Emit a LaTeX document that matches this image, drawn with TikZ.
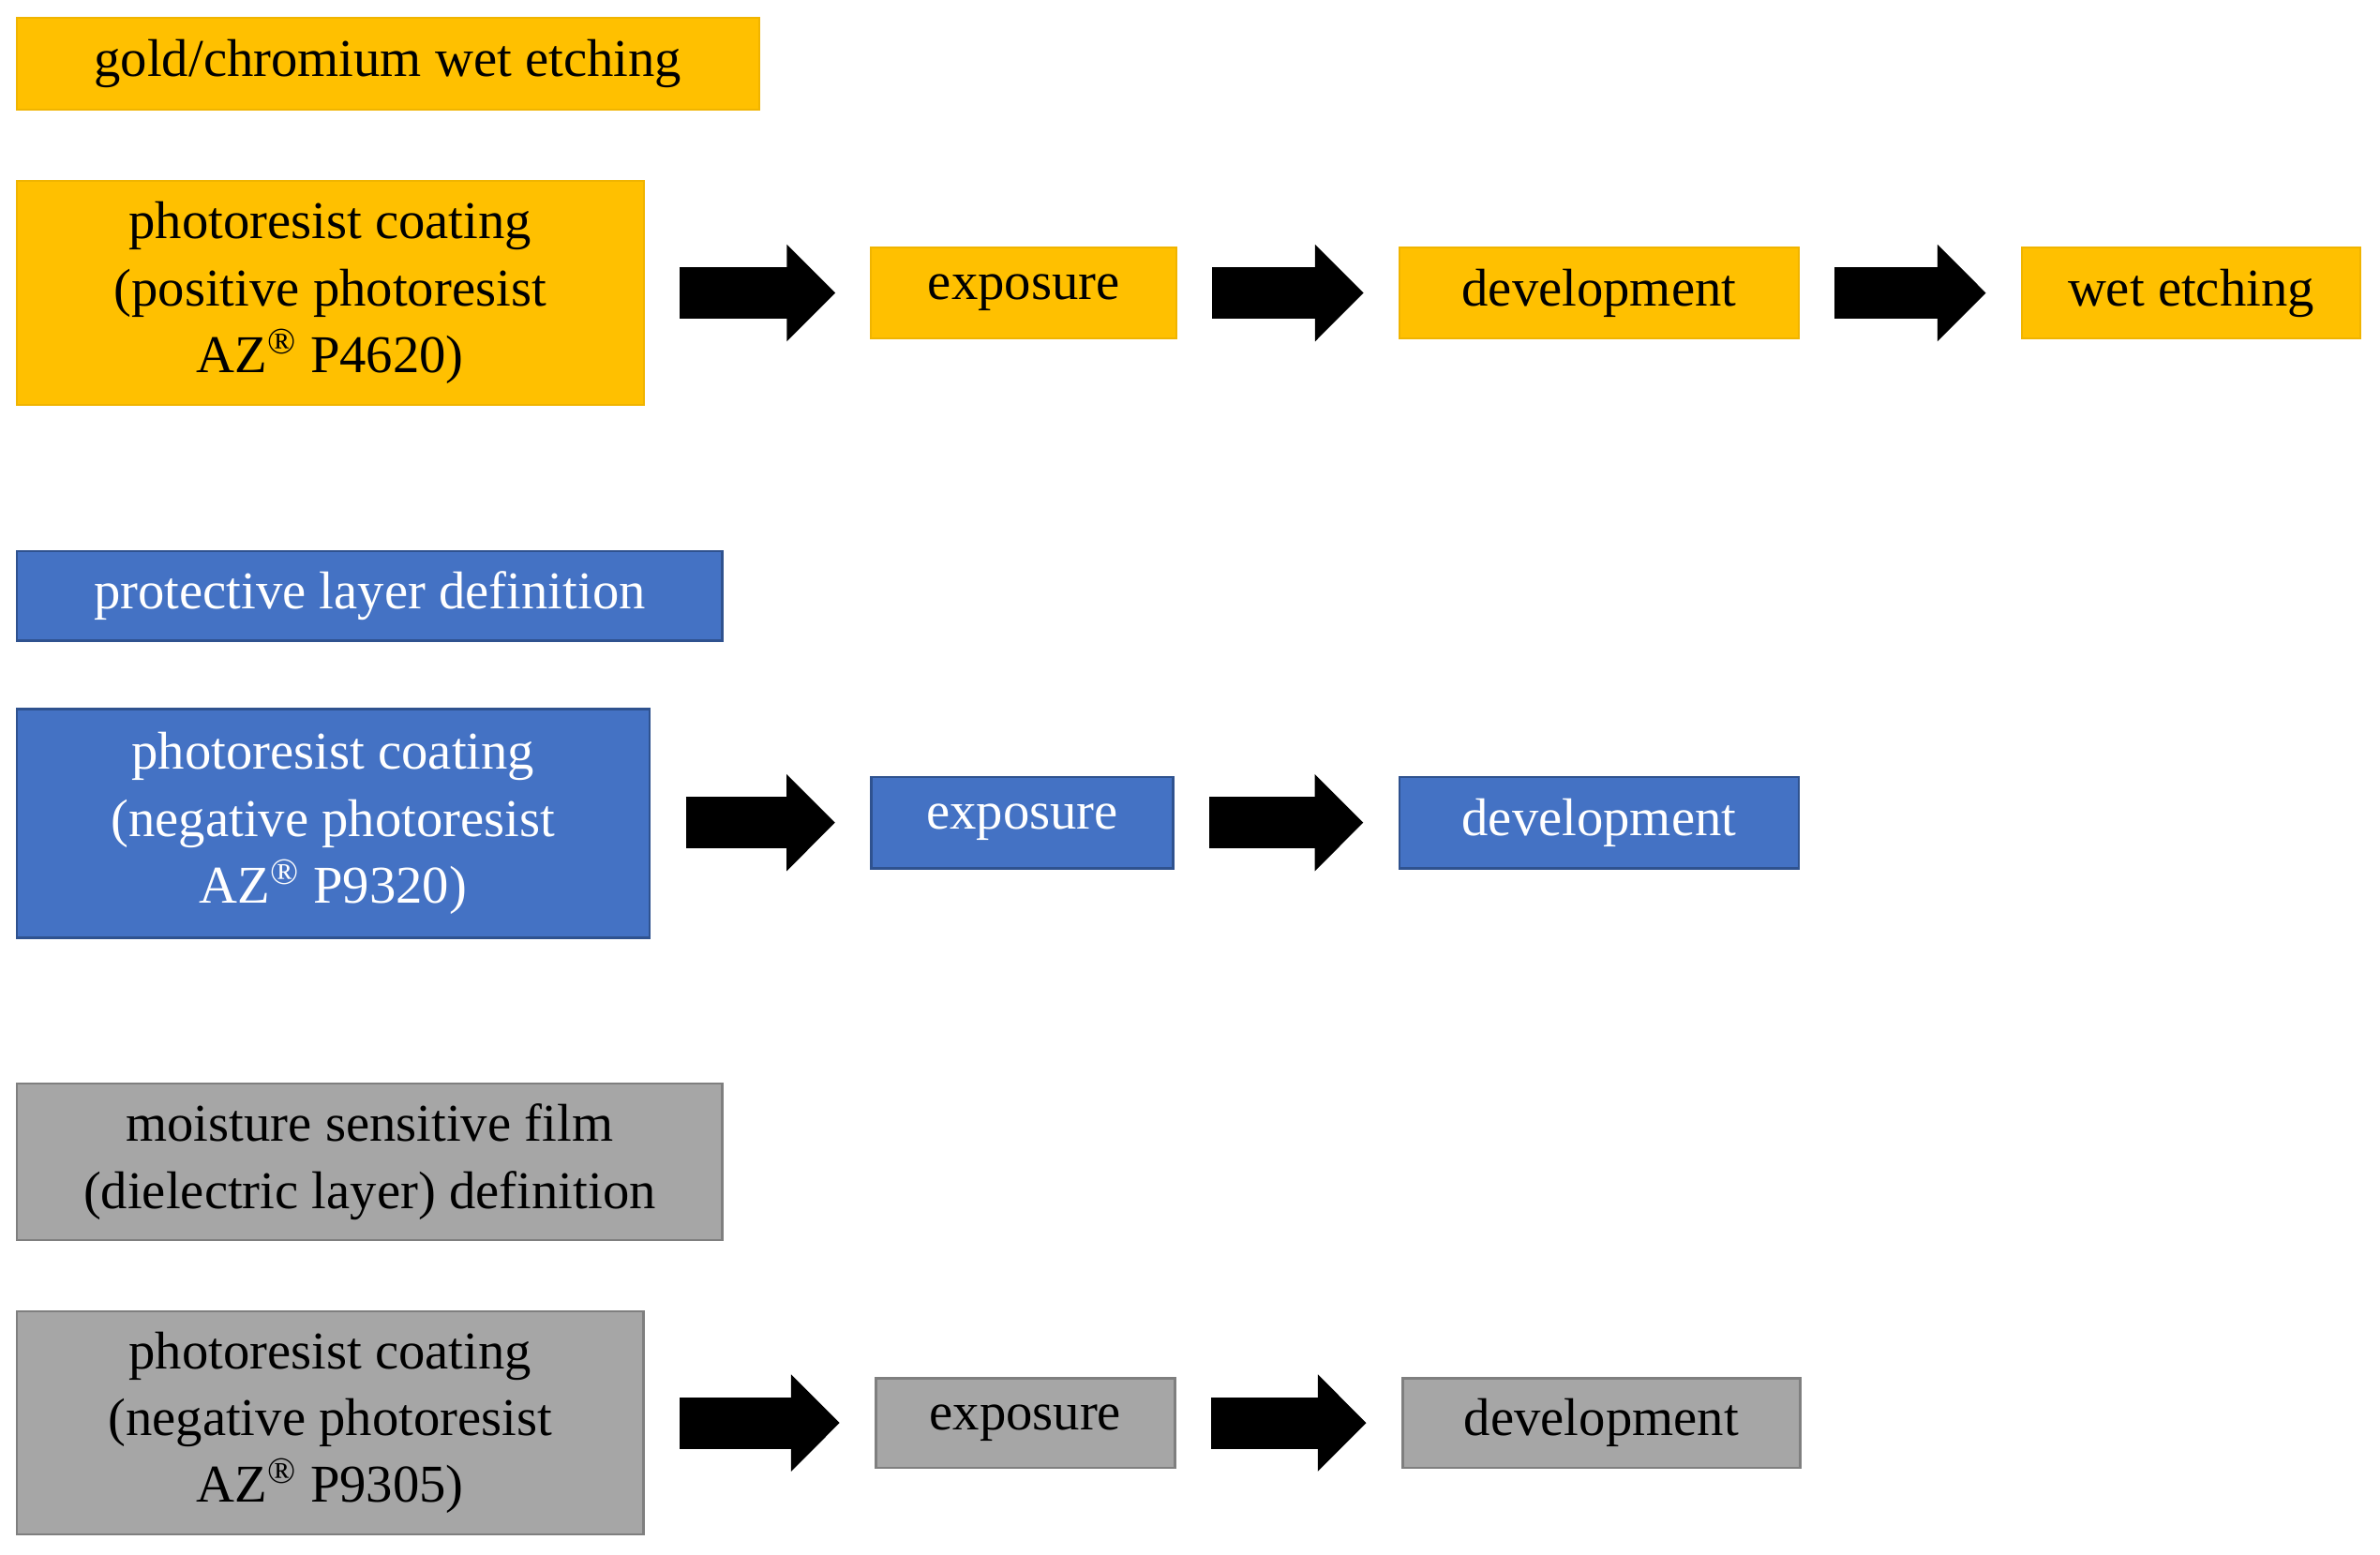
\documentclass[tikz,border=0pt]{standalone}
\usepackage{fontspec}
\setmainfont{Liberation Serif}
\usetikzlibrary{arrows.meta}
\definecolor{gold}{HTML}{FFC000}
\definecolor{goldb}{HTML}{F0B400}
\definecolor{blu}{HTML}{4472C4}
\definecolor{blub}{HTML}{2F528F}
\definecolor{gry}{HTML}{A6A6A6}
\definecolor{gryb}{HTML}{7F7F7F}
\begin{document}
\begin{tikzpicture}[x=0.5pt,y=-0.5pt,
  box/.style={inner sep=0,align=center,font=\fontsize{17.5}{22}\selectfont},
  G/.style={box,fill=gold,draw=goldb,line width=0.6pt,text=black},
  B/.style={box,fill=blu,draw=blub,line width=0.8pt,text=white},
  R/.style={box,fill=gry,draw=gryb,line width=0.8pt,text=black},
  arr/.style={line width=17pt,-{Triangle[length=16pt,width=31pt]},shorten <=11.5pt,shorten >=11.5pt}]
\useasboundingbox (0,0) rectangle (1568,1024);
\newcommand\bx[6]{\node[#1,minimum width={(#4-#2)*0.5pt},minimum height={(#5-#3)*0.5pt}] (#6) at ({(#2+#4)/2},{(#3+#5)/2})}
\bx{G}{11}{12}{500}{72}{t1} {gold/chromium wet etching};
\bx{G}{11}{119}{424}{267}{p1} {photoresist coating\\(positive photoresist\\AZ\textsuperscript{®} P4620)};
\bx{G}{574}{163}{775}{223}{e1} {exposure};
\bx{G}{922}{163}{1185}{223}{d1} {development};
\bx{G}{1332}{163}{1555}{223}{w1} {wet etching};
\bx{B}{11}{363}{476}{422}{t2} {protective layer definition};
\bx{B}{11}{467}{428}{618}{p2} {photoresist coating\\(negative photoresist\\AZ\textsuperscript{®} P9320)};
\bx{B}{574}{512}{773}{572}{e2} {exposure};
\bx{B}{922}{512}{1185}{572}{d2} {development};
\bx{R}{11}{714}{476}{817}{t3} {moisture sensitive film\\(dielectric layer) definition};
\bx{R}{11}{864}{424}{1011}{p3} {photoresist coating\\(negative photoresist\\AZ\textsuperscript{®} P9305)};
\bx{R}{577}{908}{774}{967}{e3} {exposure};
\bx{R}{924}{908}{1186}{967}{d3} {development};
\draw[arr] (p1.east|-e1.west) -- (e1.west);
\draw[arr] (e1) -- (d1);
\draw[arr] (d1) -- (w1);
\draw[arr] (p2.east|-e2.west) -- (e2.west);
\draw[arr] (e2) -- (d2);
\draw[arr] (p3.east|-e3.west) -- (e3.west);
\draw[arr] (e3) -- (d3);
\end{tikzpicture}
\end{document}
